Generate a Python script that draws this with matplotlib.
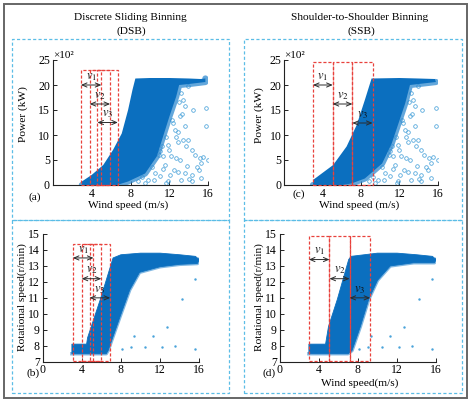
import matplotlib
matplotlib.use("Agg")
import matplotlib.pyplot as plt
from matplotlib.patches import Rectangle

plt.rcParams["font.family"] = ["Liberation Serif", "DejaVu Serif"]
plt.rcParams["mathtext.fontset"] = "stix"

W, H = 474, 404

# ─── Data ────────────────────────────────────────────────────────────────────
# cloud outlines (wind speed m/s, power x100 kW), going round the dense region
pw_dsb_x = [3.0, 3.0, 4.0, 5.2, 6.2, 7.1, 7.75, 8.2, 8.5, 10.0, 12.0, 14.0, 15.2, 15.7, 15.7,
            14.0, 13.0, 12.7, 12.0, 11.35, 10.7, 9.5, 7.75, 6.6, 3.0]
pw_dsb_y = [0.0, 0.7, 2.0, 4.0, 7.0, 10.3, 15.0, 19.0, 21.3, 21.4, 21.4, 21.3, 21.2, 21.3, 20.6,
            20.2, 20.0, 17.7, 13.7, 9.7, 5.7, 2.3, 0.7, 0.0, 0.0]
pw_ssb_x = [3.0, 3.0, 5.1, 6.5, 7.55, 8.4, 9.1, 12.0, 14.0, 15.7, 15.8,
            14.0, 13.1, 12.6, 11.9, 11.2, 10.2, 8.4, 7.0, 6.0, 3.0]
pw_ssb_y = [0.0, 1.0, 4.0, 7.7, 12.0, 17.0, 21.3, 21.4, 21.3, 21.2, 20.6,
            20.2, 20.0, 16.3, 12.3, 8.3, 4.3, 1.3, 0.3, 0.0, 0.0]

# outliers in the power panels
pw_out_x = [13.2, 13.4, 13.9, 14.4, 15.8, 15.8, 13.6, 12.9, 11.9, 12.7, 12.9, 13.4, 13.9, 13.7,
            14.3, 15.1, 16.0, 15.3, 12.7, 13.1, 12.2, 11.35, 11.0, 11.5, 12.5, 13.6, 14.3, 15.3,
            11.0, 10.5, 9.8, 11.9, 13.2, 14.3, 9.5, 8.8, 12.0, 11.2, 12.4, 13.1, 13.6, 14.8, 15.5,
            13.0, 12.3, 11.6, 10.9, 10.2, 9.9, 11.3, 12.1, 13.8, 14.0, 12.9, 11.7, 10.4, 9.2,
            14.6, 15.0, 13.3, 12.6]
pw_out_y = [18.3, 17.0, 19.7, 15.0, 15.3, 11.8, 11.8, 10.7, 8.0, 9.7, 8.7, 9.0, 9.0, 7.7,
            7.0, 5.3, 5.0, 4.3, 5.3, 5.0, 5.7, 5.7, 6.7, 4.0, 3.0, 2.3, 2.0, 1.3,
            1.7, 2.3, 1.0, 0.7, 1.0, 0.7, 0.3, 0.7, 7.0, 7.7, 12.3, 13.7, 15.7, 3.5, 5.6,
            16.5, 13.0, 9.5, 6.0, 3.5, 4.5, 3.2, 1.9, 3.8, 1.2, 2.6, 0.4, 0.9, 1.5,
            6.0, 2.9, 14.2, 11.0]

# cloud outlines (wind speed m/s, rotor speed r/min)
rs_dsb_x = [3.0, 3.0, 4.5, 4.6, 5.9, 6.9, 7.2, 8.0, 10.0, 12.0, 14.0, 15.6, 16.0, 15.8,
            14.0, 12.0, 9.9, 8.9, 7.9, 6.7, 6.5, 4.5, 3.0]
rs_dsb_y = [7.5, 8.1, 8.1, 8.5, 10.9, 12.9, 13.5, 13.7, 13.8, 13.8, 13.7, 13.6, 13.4, 13.15,
            13.1, 12.95, 12.6, 11.5, 9.8, 7.7, 7.5, 7.5, 7.5]
rs_ssb_x = [3.0, 3.0, 4.7, 5.0, 5.9, 7.06, 7.3, 10.0, 12.0, 14.0, 15.6, 16.0, 15.8,
            13.7, 11.3, 10.0, 9.1, 8.25, 7.4, 7.0, 3.0]
rs_ssb_y = [7.5, 8.1, 8.1, 9.2, 10.9, 13.4, 13.6, 13.8, 13.8, 13.7, 13.6, 13.4, 13.2,
            13.2, 13.0, 12.1, 10.9, 9.2, 7.7, 7.5, 7.5]

rs_out_x = [9.3, 12.7, 14.2, 15.6, 8.1, 10.5, 12.2, 13.5, 15.6, 11.3, 9.0]
rs_out_y = [8.6, 9.2, 10.9, 12.2, 7.8, 7.9, 7.9, 8.0, 7.8, 8.6, 7.9]

# bins (start, end) and the height of the arrow for each
dsb_pw_bins = [(2.9, 5.0), (3.8, 5.9), (4.6, 6.7)]
dsb_pw_arrow_y = [20.0, 16.2, 12.5]
ssb_pw_bins = [(3.0, 5.05), (5.05, 7.1), (7.1, 9.2)]
ssb_pw_arrow_y = [20.0, 16.2, 12.4]
dsb_rs_bins = [(3.1, 5.2), (4.0, 6.0), (4.8, 6.9)]
dsb_rs_arrow_y = [13.5, 12.2, 11.0]
ssb_rs_bins = [(3.0, 5.1), (5.1, 7.15), (7.15, 9.25)]
ssb_rs_arrow_y = [13.4, 12.2, 11.0]

pw_ticks = [0, 5, 10, 15, 20, 25]
rs_ticks = [7, 8, 9, 10, 11, 12, 13, 14, 15]

BLUE = "#0b6fbf"
EDGE = "#4aa3da"
FUZZ = "#2f8ad0"
RED = "#e8413c"
CYAN = "#5bbde6"


def fx(x):
    return x / W


def fy(y):
    return 1 - y / H


def add_axes(left, top, right, bottom):
    return fig.add_axes([fx(left), fy(bottom), fx(right) - fx(left), fy(top) - fy(bottom)])


def style(ax, yticks, xticks, ylim):
    ax.set_xlim(0, 16)
    ax.set_ylim(*ylim)
    ax.set_xticks(xticks)
    ax.set_yticks(yticks)
    for s in ["top", "right"]:
        ax.spines[s].set_visible(False)
    for s in ["left", "bottom"]:
        ax.spines[s].set_linewidth(0.8)
        ax.spines[s].set_color("#222222")
    ax.tick_params(direction="in", length=3, width=0.6, labelsize=8.5, pad=2)
    ax.patch.set_alpha(0)


def bins(ax, spans, arrow_ys, top, n_low):
    for i, ((a, b), ya) in enumerate(zip(spans, arrow_ys)):
        ax.add_patch(Rectangle((a, n_low), b - a, top - n_low, fill=False, edgecolor=RED,
                               lw=0.9, ls=(0, (2.5, 1.5)), zorder=4, clip_on=False))
        ax.annotate("", xy=(b, ya), xytext=(a, ya),
                    arrowprops=dict(arrowstyle="<->,head_length=0.35,head_width=0.15",
                                    lw=0.7, color="#2b2b2b", shrinkA=0, shrinkB=0), zorder=5)
        ax.annotate(rf"$v_{i + 1}$", xy=((a + b) / 2, ya), xytext=(0, 6),
                    textcoords="offset points", ha="center", va="center",
                    fontsize=9, color="#111111", zorder=6)


fig = plt.figure(figsize=(W / 100, H / 100), dpi=100)

# frames
fig.patches.append(Rectangle((fx(4), fy(398)), fx(467) - fx(4), fy(4) - fy(398),
                             transform=fig.transFigure, fill=False, edgecolor="#666666", lw=1.4))
for (l, t, r, b) in [(12, 39, 229, 220), (244, 39, 462, 220), (12, 220, 229, 393), (244, 220, 462, 393)]:
    fig.patches.append(Rectangle((fx(l), fy(b)), fx(r) - fx(l), fy(t) - fy(b),
                                 transform=fig.transFigure, fill=False, edgecolor=CYAN,
                                 lw=0.9, ls=(0, (2.5, 1.8))))

# ─── Power panels ────────────────────────────────────────────────────────────
ax_a = add_axes(52.7, 60, 208.3, 185)
ax_c = add_axes(284.2, 60, 437.8, 185)
for ax, cx, cy, sp, ay, top in [(ax_a, pw_dsb_x, pw_dsb_y, dsb_pw_bins, dsb_pw_arrow_y, 23.0),
                                (ax_c, pw_ssb_x, pw_ssb_y, ssb_pw_bins, ssb_pw_arrow_y, 24.6)]:
    ax.plot(pw_out_x, pw_out_y, "o", ms=2.6, mfc="none", mec=EDGE, mew=0.55, zorder=2)
    k = cx.index(max(cx))  # lower-right edge starts at the right end of the plateau
    ax.plot(cx[k:], cy[k:], color=FUZZ, lw=4.5, alpha=0.75, solid_capstyle="round", zorder=2.5)
    ax.fill(cx, cy, facecolor=BLUE, edgecolor="none", zorder=3)
    style(ax, pw_ticks, [4, 8, 12, 16], (0, 25))
    bins(ax, sp, ay, top, 0)
    ax.text(0.0, 1.0, "×10²", transform=ax.transAxes, fontsize=8, ha="left", va="bottom")

# ─── Rotor speed panels ──────────────────────────────────────────────────────
ax_b = add_axes(42.5, 234, 199.3, 361.7)
ax_d = add_axes(279.5, 234, 436.3, 361.7)
for ax, cx, cy, sp, ay, top in [(ax_b, rs_dsb_x, rs_dsb_y, dsb_rs_bins, dsb_rs_arrow_y, 14.4),
                                (ax_d, rs_ssb_x, rs_ssb_y, ssb_rs_bins, ssb_rs_arrow_y, 14.9)]:
    ax.plot(rs_out_x, rs_out_y, ".", ms=1.5, color=EDGE, zorder=2)
    k = cx.index(max(cx))
    ax.plot(cx[k:], cy[k:], color=FUZZ, lw=2.5, alpha=0.6, zorder=2.5)
    ax.fill(cx, cy, facecolor=BLUE, edgecolor=BLUE, lw=0.6, zorder=3)
    style(ax, rs_ticks, [0, 4, 8, 12, 16], (7, 15))
    bins(ax, sp, ay, top, 7.05)

# ─── Texts ───────────────────────────────────────────────────────────────────
fig.text(fx(130), fy(17), "Discrete Sliding Binning", ha="center", va="center", fontsize=8.2)
fig.text(fx(131), fy(31), "(DSB)", ha="center", va="center", fontsize=8.2)
fig.text(fx(360), fy(17), "Shoulder-to-Shoulder Binning", ha="center", va="center", fontsize=8.2)
fig.text(fx(361), fy(31), "(SSB)", ha="center", va="center", fontsize=8.2)

fig.text(fx(128), fy(205), "Wind speed (m/s)", ha="center", va="center", fontsize=8.2)
fig.text(fx(359), fy(205), "Wind speed (m/s)", ha="center", va="center", fontsize=8.2)
fig.text(fx(360), fy(383), "Wind speed(m/s)", ha="center", va="center", fontsize=8.2)

fig.text(fx(23), fy(114), "Power (kW)", rotation=90, ha="center", va="center", fontsize=8.2)
fig.text(fx(258.7), fy(115), "Power (kW)", rotation=90, ha="center", va="center", fontsize=8.2)
fig.text(fx(21.7), fy(297), "Rotational speed(r/min)", rotation=90, ha="center", va="center", fontsize=8.2)
fig.text(fx(258.7), fy(297), "Rotational speed(r/min)", rotation=90, ha="center", va="center", fontsize=8.2)

fig.text(fx(35), fy(197), "(a)", ha="center", va="center", fontsize=8.2)
fig.text(fx(299), fy(194), "(c)", ha="center", va="center", fontsize=8.2)
fig.text(fx(33), fy(373), "(b)", ha="center", va="center", fontsize=8.2)
fig.text(fx(269), fy(373), "(d)", ha="center", va="center", fontsize=8.2)

fig.savefig("out.png", dpi=100)
